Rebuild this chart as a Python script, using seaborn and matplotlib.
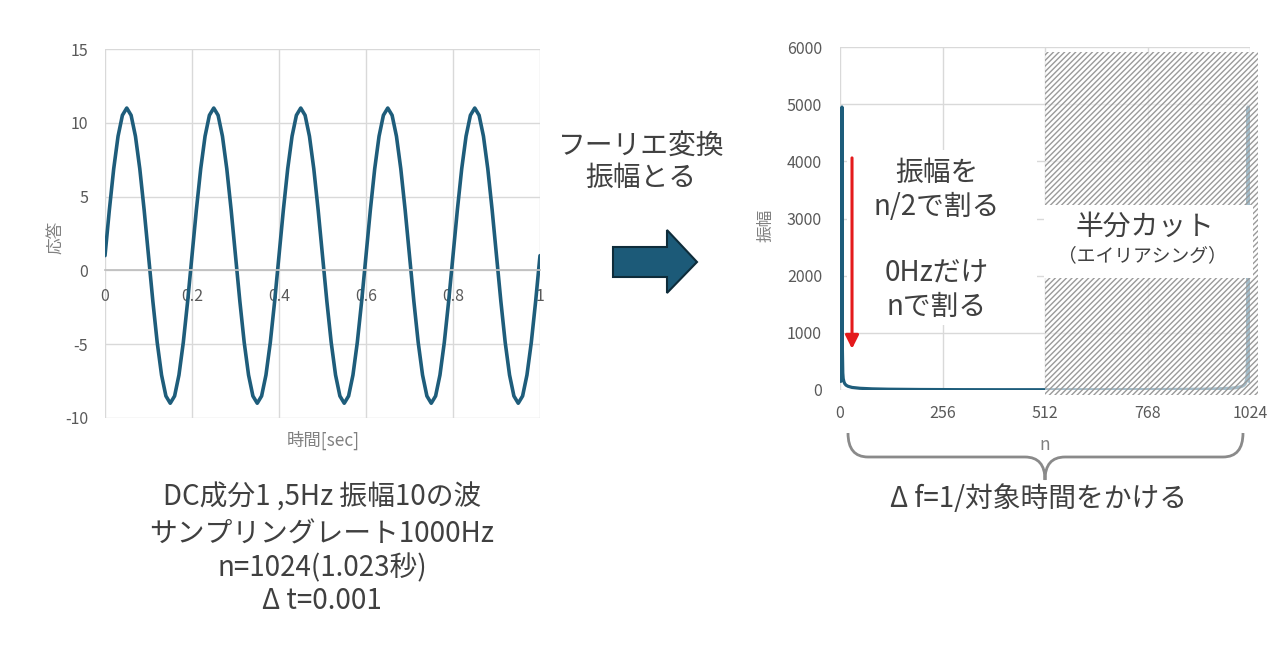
import matplotlib
matplotlib.use("Agg")
import matplotlib.pyplot as plt
import seaborn as sns
from matplotlib.patches import Rectangle, Polygon, PathPatch
from matplotlib.path import Path

# time signal, 0.01 s per sample
wave = [
    1.0, 4.09, 6.88, 9.09, 10.51, 11.0, 10.51, 9.09, 6.88, 4.09,
    1.0, -2.09, -4.88, -7.09, -8.51, -9.0, -8.51, -7.09, -4.88, -2.09,
    1.0, 4.09, 6.88, 9.09, 10.51, 11.0, 10.51, 9.09, 6.88, 4.09,
    1.0, -2.09, -4.88, -7.09, -8.51, -9.0, -8.51, -7.09, -4.88, -2.09,
    1.0, 4.09, 6.88, 9.09, 10.51, 11.0, 10.51, 9.09, 6.88, 4.09,
    1.0, -2.09, -4.88, -7.09, -8.51, -9.0, -8.51, -7.09, -4.88, -2.09,
    1.0, 4.09, 6.88, 9.09, 10.51, 11.0, 10.51, 9.09, 6.88, 4.09,
    1.0, -2.09, -4.88, -7.09, -8.51, -9.0, -8.51, -7.09, -4.88, -2.09,
    1.0, 4.09, 6.88, 9.09, 10.51, 11.0, 10.51, 9.09, 6.88, 4.09,
    1.0, -2.09, -4.88, -7.09, -8.51, -9.0, -8.51, -7.09, -4.88, -2.09,
    1.0,
]
time_ticks = [0, 20, 40, 60, 80, 100]
time_labels = ["0", "0.2", "0.4", "0.6", "0.8", "1"]
wave_yticks = [-10, -5, 0, 5, 10, 15]

# amplitude spectrum (index n -> amplitude)
spec_n = [0, 1, 2, 3, 4, 5, 6, 7, 8, 10, 12, 15, 20, 30, 50, 80, 120, 200, 300, 400,
          512, 624, 724, 824, 904, 944, 974, 994, 1004, 1009, 1012, 1014, 1016,
          1017, 1018, 1019, 1020, 1021, 1022, 1023]
spec_amp = [1100, 250, 150, 200, 450, 4950, 700, 300, 200, 140, 110, 85, 65, 45, 30, 20, 14, 9, 6, 5,
            5, 5, 6, 9, 14, 20, 30, 45, 65, 85, 110, 140, 200,
            300, 700, 4950, 450, 200, 150, 250]
spec_xticks = [0, 256, 512, 768, 1024]
spec_yticks = [0, 1000, 2000, 3000, 4000, 5000, 6000]

sns.set_theme(style="white")
plt.rcParams["font.family"] = ["Noto Sans CJK JP", "DejaVu Sans"]
plt.rcParams["axes.unicode_minus"] = False
plt.rcParams["hatch.linewidth"] = 1.0
plt.rcParams["hatch.color"] = "#9a9a9a"

W, H = 1280, 670
fig = plt.figure(figsize=(12.8, 6.7), dpi=100)
fig.patch.set_facecolor("white")


def fx(px, py):
    return px / W, 1 - py / H


line_col = "#1e5d7b"
tick_col = "#595959"
grid_col = "#d9d9d9"
txt_col = "#404040"
big = 20

# ---- left: time signal
ax1 = fig.add_axes([105 / W, 1 - 418 / H, 435 / W, 369 / H])
sns.lineplot(data=wave, ax=ax1, color=line_col, linewidth=2.6)
ax1.set_xlim(0, 100)
ax1.set_ylim(-10, 15)
ax1.set_xticks(time_ticks)
ax1.set_xticklabels(time_labels)
ax1.set_yticks(wave_yticks)
ax1.grid(True, color=grid_col, linewidth=1)
ax1.set_axisbelow(True)
for s in ["top", "right", "left"]:
    ax1.spines[s].set_visible(False)
ax1.spines["bottom"].set_position(("data", 0))
ax1.spines["bottom"].set_color("#bfbfbf")
ax1.tick_params(axis="y", length=0, pad=12, labelsize=11.5, labelcolor=tick_col)
ax1.tick_params(axis="x", length=0, pad=13, labelsize=11.5, labelcolor=tick_col)
fig.text(*fx(56, 237), "応答", rotation=90, ha="center", va="center", fontsize=12, color="#808080")
fig.text(*fx(323, 440), "時間[sec]", ha="center", va="center", fontsize=12.5, color="#808080")

# ---- right: spectrum
ax2 = fig.add_axes([840 / W, 1 - 390 / H, 410 / W, 343 / H])
sns.lineplot(x=spec_n, y=spec_amp, ax=ax2, color=line_col, linewidth=2.3, zorder=2)
ax2.set_xlim(0, 1024)
ax2.set_ylim(0, 6000)
ax2.set_xticks(spec_xticks)
ax2.set_yticks(spec_yticks)
ax2.grid(True, color=grid_col, linewidth=1)
ax2.set_axisbelow(True)
for s in ["top", "right", "left", "bottom"]:
    ax2.spines[s].set_visible(False)
ax2.tick_params(axis="y", length=0, pad=13, labelsize=11.5, labelcolor=tick_col)
ax2.tick_params(axis="x", length=0, pad=11, labelsize=11.5, labelcolor=tick_col)

# white panel behind the left notes
ax2.add_patch(Rectangle((18, 1140), 474, 3060, facecolor="white", edgecolor="none", zorder=1.5))
# hatched half (aliasing)
ax2.add_patch(Rectangle((512, -87), 533, 5999, facecolor=(1, 1, 1, 0.6), edgecolor="#9a9a9a",
                        hatch="//////", linewidth=0, clip_on=False, zorder=3))
ax2.add_patch(Rectangle((510, 1960), 522, 1280, facecolor="white", edgecolor="none",
                        clip_on=False, zorder=4))
ax2.annotate("", xy=(30, 720), xytext=(30, 4060),
             arrowprops=dict(arrowstyle="-|>", color="#e41a1c", lw=2.2, mutation_scale=20,
                             shrinkA=0, shrinkB=0), zorder=6)

fig.text(*fx(766, 225), "振幅", rotation=90, ha="center", va="center", fontsize=12, color="#808080")
fig.text(*fx(1045, 445), "n", ha="center", va="center", fontsize=12.5, color="#808080")

for (px, py, s) in [(937, 173, "振幅を"), (937, 207, "n/2で割る"),
                    (937, 273, "0Hzだけ"), (937, 307, "nで割る")]:
    fig.text(*fx(px, py), s, ha="center", va="center", fontsize=big, color=txt_col)
fig.text(*fx(1145, 227), "半分カット", ha="center", va="center", fontsize=big, color=txt_col, zorder=6)
fig.text(*fx(1142, 256), "（エイリアシング）", ha="center", va="center", fontsize=13.5, color=txt_col, zorder=6)

# ---- middle: caption and block arrow
fig.text(*fx(641, 146), "フーリエ変換", ha="center", va="center", fontsize=big, color=txt_col)
fig.text(*fx(641, 178), "振幅とる", ha="center", va="center", fontsize=big, color=txt_col)
arrow_px = [(613, 247), (667, 247), (667, 230), (697, 262), (667, 293), (667, 277), (613, 277)]
fig.patches.append(Polygon([fx(*p) for p in arrow_px], closed=True, transform=fig.transFigure,
                           facecolor="#1c5a78", edgecolor="#0e2c3a", linewidth=1.5))

# ---- brace under the spectrum
brace_px = [(848, 433), (848, 457), (868, 457), (868, 457),
            (1025, 457), (1045, 457), (1045, 480),
            (1045, 457), (1065, 457), (1065, 457),
            (1223, 457), (1243, 457), (1243, 433)]
codes = [Path.MOVETO, Path.CURVE3, Path.CURVE3, Path.LINETO,
         Path.LINETO, Path.CURVE3, Path.CURVE3,
         Path.CURVE3, Path.CURVE3, Path.LINETO,
         Path.LINETO, Path.CURVE3, Path.CURVE3]
fig.patches.append(PathPatch(Path([fx(*p) for p in brace_px], codes), transform=fig.transFigure,
                             facecolor="none", edgecolor="#8a8a8a", linewidth=2))

fig.text(*fx(1038, 499), "Δ f=1/対象時間をかける", ha="center", va="center", fontsize=big, color=txt_col)

# ---- bottom-left notes
for py, s in [(498, "DC成分1 ,5Hz 振幅10の波"), (535, "サンプリングレート1000Hz"),
              (568, "n=1024(1.023秒)"), (601, "Δ t=0.001")]:
    fig.text(*fx(322, py), s, ha="center", va="center", fontsize=big, color=txt_col)

fig.savefig("out.png", dpi=100, facecolor="white")
